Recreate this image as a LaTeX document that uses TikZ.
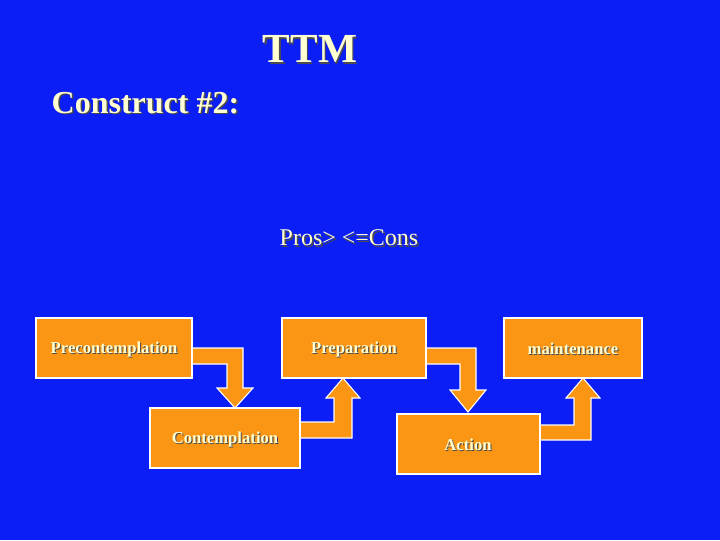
\documentclass[tikz,border=0pt]{standalone}
\usepackage{fontspec}
\setmainfont{Liberation Serif}
\definecolor{bg}{RGB}{10,30,245}
\definecolor{boxor}{RGB}{250,150,20}
\definecolor{txt}{RGB}{255,255,210}
\begin{document}
\begin{tikzpicture}[x=0.75pt,y=-0.75pt,
  box/.style={draw=white,fill=boxor,line width=0.8pt},
  arr/.style={draw=white,fill=boxor,line width=0.8pt},
  lbl/.style={font=\bfseries\fontsize{12.5}{14}\selectfont,text=txt},
  shadowtxt/.style={text=black!70}]
\fill[bg] (0,0) rectangle (720,540);
\useasboundingbox (0,0) rectangle (720,540);
\node[shadowtxt,font=\bfseries\fontsize{31}{34}\selectfont] at (311.5,50.5) {TTM};
\node[text=txt,font=\bfseries\fontsize{31}{34}\selectfont] (ttm) at (310,49) {TTM};
\node[shadowtxt,font=\bfseries\fontsize{24}{28}\selectfont,anchor=west] at (48.5,104.5) {Construct \#2:};
\node[text=txt,font=\bfseries\fontsize{24}{28}\selectfont,anchor=west] (con) at (47,103) {Construct \#2:};
\node[shadowtxt,font=\fontsize{18}{20}\selectfont] at (350.5,239.5) {Pros> <=Cons};
\node[text=txt,font=\fontsize{18}{20}\selectfont] (pc) at (349,238) {Pros> <=Cons};
% arrows
\draw[arr] (190,348) -- (243,348) -- (243,388) -- (253,388) -- (235,408) -- (217,388) -- (227,388) -- (227,364) -- (190,364) -- cycle;
\draw[arr] (298,422) -- (334,422) -- (334,398) -- (326,398) -- (343,378) -- (360,398) -- (352,398) -- (352,438) -- (298,438) -- cycle;
\draw[arr] (424,348) -- (476,348) -- (476,390) -- (486,390) -- (468,412) -- (450,390) -- (460,390) -- (460,364) -- (424,364) -- cycle;
\draw[arr] (538,425) -- (574,425) -- (574,398) -- (566,398) -- (583,378) -- (600,398) -- (591,398) -- (591,440) -- (538,440) -- cycle;
% boxes
\node[box,minimum width=156*0.75pt,minimum height=60*0.75pt] (pre) at (114,348) {};
\node[box,minimum width=144*0.75pt,minimum height=60*0.75pt] (prep) at (354,348) {};
\node[box,minimum width=138*0.75pt,minimum height=60*0.75pt] (main) at (573,348) {};
\node[box,minimum width=150*0.75pt,minimum height=60*0.75pt] (cont) at (225,438) {};
\node[box,minimum width=143*0.75pt,minimum height=60*0.75pt] (act) at (468.5,444) {};
\foreach \t/\x/\y in {Precontemplation/114/349,Preparation/354/349,maintenance/573/349,Contemplation/225/439,Action/468/445}{
  \node[lbl,text=black!70] at (\x+1,\y+1) {\t};
  \node[lbl] at (\x,\y) {\t};}
\end{tikzpicture}
\end{document}
